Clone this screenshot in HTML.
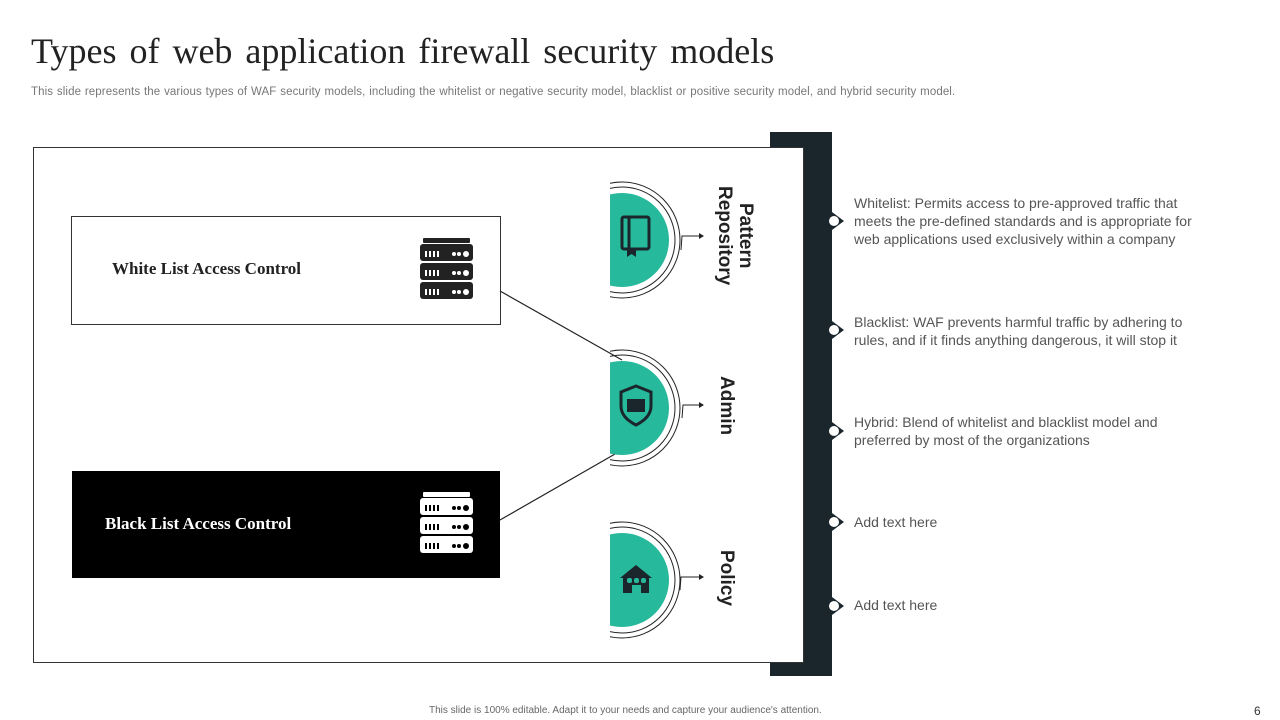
<!DOCTYPE html>
<html><head><meta charset="utf-8"><style>
body{margin:0;width:1280px;height:720px;background:#fff;position:relative;overflow:hidden;font-family:"Liberation Sans",sans-serif}
.t{position:absolute;left:31px;top:30px;font-family:"Liberation Serif",serif;font-size:36px;color:#222;white-space:nowrap;letter-spacing:0px;word-spacing:4px}
.s{position:absolute;left:31px;top:86px;font-size:11.5px;color:#777;white-space:nowrap;letter-spacing:0.1px;word-spacing:0.5px}
.r{position:absolute;left:854px;font-size:14px;color:#555;line-height:18px;width:355px}
.f{position:absolute;top:705px;left:429px;font-size:10px;color:#666}
.pn{position:absolute;top:704px;left:1254px;font-size:12px;color:#333}
.v{position:absolute;writing-mode:vertical-rl;font-weight:bold;font-size:19px;color:#222;line-height:21px;white-space:nowrap;text-align:center}
</style></head><body>
<div class="t">Types of web application  firewall security models</div>
<div class="s">This slide represents the various types of WAF  security models, including the whitelist or negative security model, blacklist or positive security model, and hybrid security model.</div>
<svg width="1280" height="720" style="position:absolute;left:0;top:0">
<defs>
<clipPath id="c"><rect x="610" y="0" width="200" height="720"/></clipPath>
<g id="srv">
<rect x="3" y="0" width="47" height="5" rx="1"/>
<rect x="0" y="6" width="53" height="17" rx="3"/>
<rect x="0" y="25" width="53" height="17" rx="3"/>
<rect x="0" y="44" width="53" height="17" rx="3"/>
</g>
</defs>
<rect x="770" y="132" width="62" height="544" fill="#1b262c"/>
<rect x="33.5" y="147.5" width="770" height="515" fill="#fff" stroke="#333" stroke-width="1"/>
<rect x="71.5" y="216.5" width="429" height="108" fill="#fff" stroke="#333"/>
<rect x="72" y="471" width="428" height="107" fill="#000"/>
<line x1="500" y1="291" x2="622" y2="360" stroke="#222" stroke-width="1.2"/>
<line x1="500" y1="520" x2="622" y2="450" stroke="#222" stroke-width="1.2"/>
<g clip-path="url(#c)">
<circle cx="622" cy="240" r="47" fill="#26b99b"/>
<circle cx="622" cy="240" r="53" fill="none" stroke="#222" stroke-width="1"/>
<circle cx="622" cy="240" r="58" fill="none" stroke="#222" stroke-width="1"/>
<circle cx="622" cy="408" r="47" fill="#26b99b"/>
<circle cx="622" cy="408" r="53" fill="none" stroke="#222" stroke-width="1"/>
<circle cx="622" cy="408" r="58" fill="none" stroke="#222" stroke-width="1"/>
<circle cx="622" cy="580" r="47" fill="#26b99b"/>
<circle cx="622" cy="580" r="53" fill="none" stroke="#222" stroke-width="1"/>
<circle cx="622" cy="580" r="58" fill="none" stroke="#222" stroke-width="1"/>
</g>
<g stroke="#222" stroke-width="1" fill="none">
<path d="M681 250 L682 236 L700 236"/><path d="M682 418 L683 405 L700 405"/><path d="M680 590 L681 577 L700 577"/>
</g>
<g fill="#222"><path d="M704 236 l-5 -3 v6z"/><path d="M704 405 l-5 -3 v6z"/><path d="M704 577 l-5 -3 v6z"/></g>
<g fill="none" stroke="#1b262c" stroke-width="3"><rect x="622" y="217" width="27" height="32" rx="2"/><line x1="629" y1="217" x2="629" y2="249"/></g>
<path d="M627 248 h9 v9 l-4.5 -3 l-4.5 3z" fill="#1b262c"/>
<path d="M636 386 l15 6 v14 c0 9 -7 15 -15 19 c-8 -4 -15 -10 -15 -19 v-14z" fill="none" stroke="#1b262c" stroke-width="3"/>
<rect x="627" y="399" width="18" height="13" fill="#1b262c"/>
<path d="M620 578 l16 -13 l16 13 h-3 v15 h-26 v-15z" fill="#1b262c"/>
<g fill="#26b99b"><rect x="627" y="578" width="5" height="5" rx="2"/><rect x="634" y="578" width="5" height="5" rx="2"/><rect x="641" y="578" width="5" height="5" rx="2"/><rect x="632" y="585" width="9" height="8"/></g>
<g fill="#222" transform="translate(420,238)"><use href="#srv"/></g>
<g fill="#fff" transform="translate(420,492)"><use href="#srv"/></g>
<g fill="#fff"><g transform="translate(425,251)">
<rect x="0" y="0" width="2" height="6"/><rect x="4" y="0" width="2" height="6"/><rect x="8" y="0" width="2" height="6"/><rect x="12" y="0" width="2" height="6"/>
<circle cx="29" cy="3" r="2"/><circle cx="34" cy="3" r="2"/><circle cx="41" cy="3" r="3"/></g>
<g transform="translate(425,270)"><rect x="0" y="0" width="2" height="6"/><rect x="4" y="0" width="2" height="6"/><rect x="8" y="0" width="2" height="6"/><rect x="12" y="0" width="2" height="6"/><circle cx="29" cy="3" r="2"/><circle cx="34" cy="3" r="2"/><circle cx="41" cy="3" r="3"/></g>
<g transform="translate(425,289)"><rect x="0" y="0" width="2" height="6"/><rect x="4" y="0" width="2" height="6"/><rect x="8" y="0" width="2" height="6"/><rect x="12" y="0" width="2" height="6"/><circle cx="29" cy="3" r="2"/><circle cx="34" cy="3" r="2"/><circle cx="41" cy="3" r="3"/></g></g>
<g fill="#000"><g transform="translate(425,505)">
<rect x="0" y="0" width="2" height="6"/><rect x="4" y="0" width="2" height="6"/><rect x="8" y="0" width="2" height="6"/><rect x="12" y="0" width="2" height="6"/><circle cx="29" cy="3" r="2"/><circle cx="34" cy="3" r="2"/><circle cx="41" cy="3" r="3"/></g>
<g transform="translate(425,524)"><rect x="0" y="0" width="2" height="6"/><rect x="4" y="0" width="2" height="6"/><rect x="8" y="0" width="2" height="6"/><rect x="12" y="0" width="2" height="6"/><circle cx="29" cy="3" r="2"/><circle cx="34" cy="3" r="2"/><circle cx="41" cy="3" r="3"/></g>
<g transform="translate(425,543)"><rect x="0" y="0" width="2" height="6"/><rect x="4" y="0" width="2" height="6"/><rect x="8" y="0" width="2" height="6"/><rect x="12" y="0" width="2" height="6"/><circle cx="29" cy="3" r="2"/><circle cx="34" cy="3" r="2"/><circle cx="41" cy="3" r="3"/></g></g>
<g>
<g transform="translate(834,221)"><path d="M-2 -9 l12 9 l-12 9z" fill="#1b262c"/><circle cx="0" cy="0" r="5" fill="#fff"/></g>
<g transform="translate(834,330)"><path d="M-2 -9 l12 9 l-12 9z" fill="#1b262c"/><circle cx="0" cy="0" r="5" fill="#fff"/></g>
<g transform="translate(834,431)"><path d="M-2 -9 l12 9 l-12 9z" fill="#1b262c"/><circle cx="0" cy="0" r="5" fill="#fff"/></g>
<g transform="translate(834,522)"><path d="M-2 -9 l12 9 l-12 9z" fill="#1b262c"/><circle cx="0" cy="0" r="5" fill="#fff"/></g>
<g transform="translate(834,606)"><path d="M-2 -9 l12 9 l-12 9z" fill="#1b262c"/><circle cx="0" cy="0" r="5" fill="#fff"/></g>
</g>
<text x="112" y="274" font-family="Liberation Serif" font-weight="bold" font-size="17" fill="#222">White List Access Control</text>
<text x="105" y="529" font-family="Liberation Serif" font-weight="bold" font-size="17" fill="#fff">Black List Access Control</text>
</svg>
<div class="v" style="left:714px;top:186px">Pattern<br>Repository</div>
<div class="v" style="left:716px;top:376px">Admin</div>
<div class="v" style="left:716px;top:550px">Policy</div>
<div class="r" style="top:194px">Whitelist: Permits access to pre-approved traffic that meets the pre-defined standards and is appropriate for web applications used exclusively  within a company</div>
<div class="r" style="top:313px">Blacklist: WAF prevents harmful traffic by adhering to rules, and if it finds anything dangerous, it will stop it</div>
<div class="r" style="top:413px">Hybrid: Blend of whitelist and blacklist model and preferred by most of the organizations</div>
<div class="r" style="top:513px">Add text here</div>
<div class="r" style="top:596px">Add text here</div>
<div class="f">This slide is 100% editable.  Adapt it to your needs and capture your audience's attention.</div>
<div class="pn">6</div>
</body></html>
